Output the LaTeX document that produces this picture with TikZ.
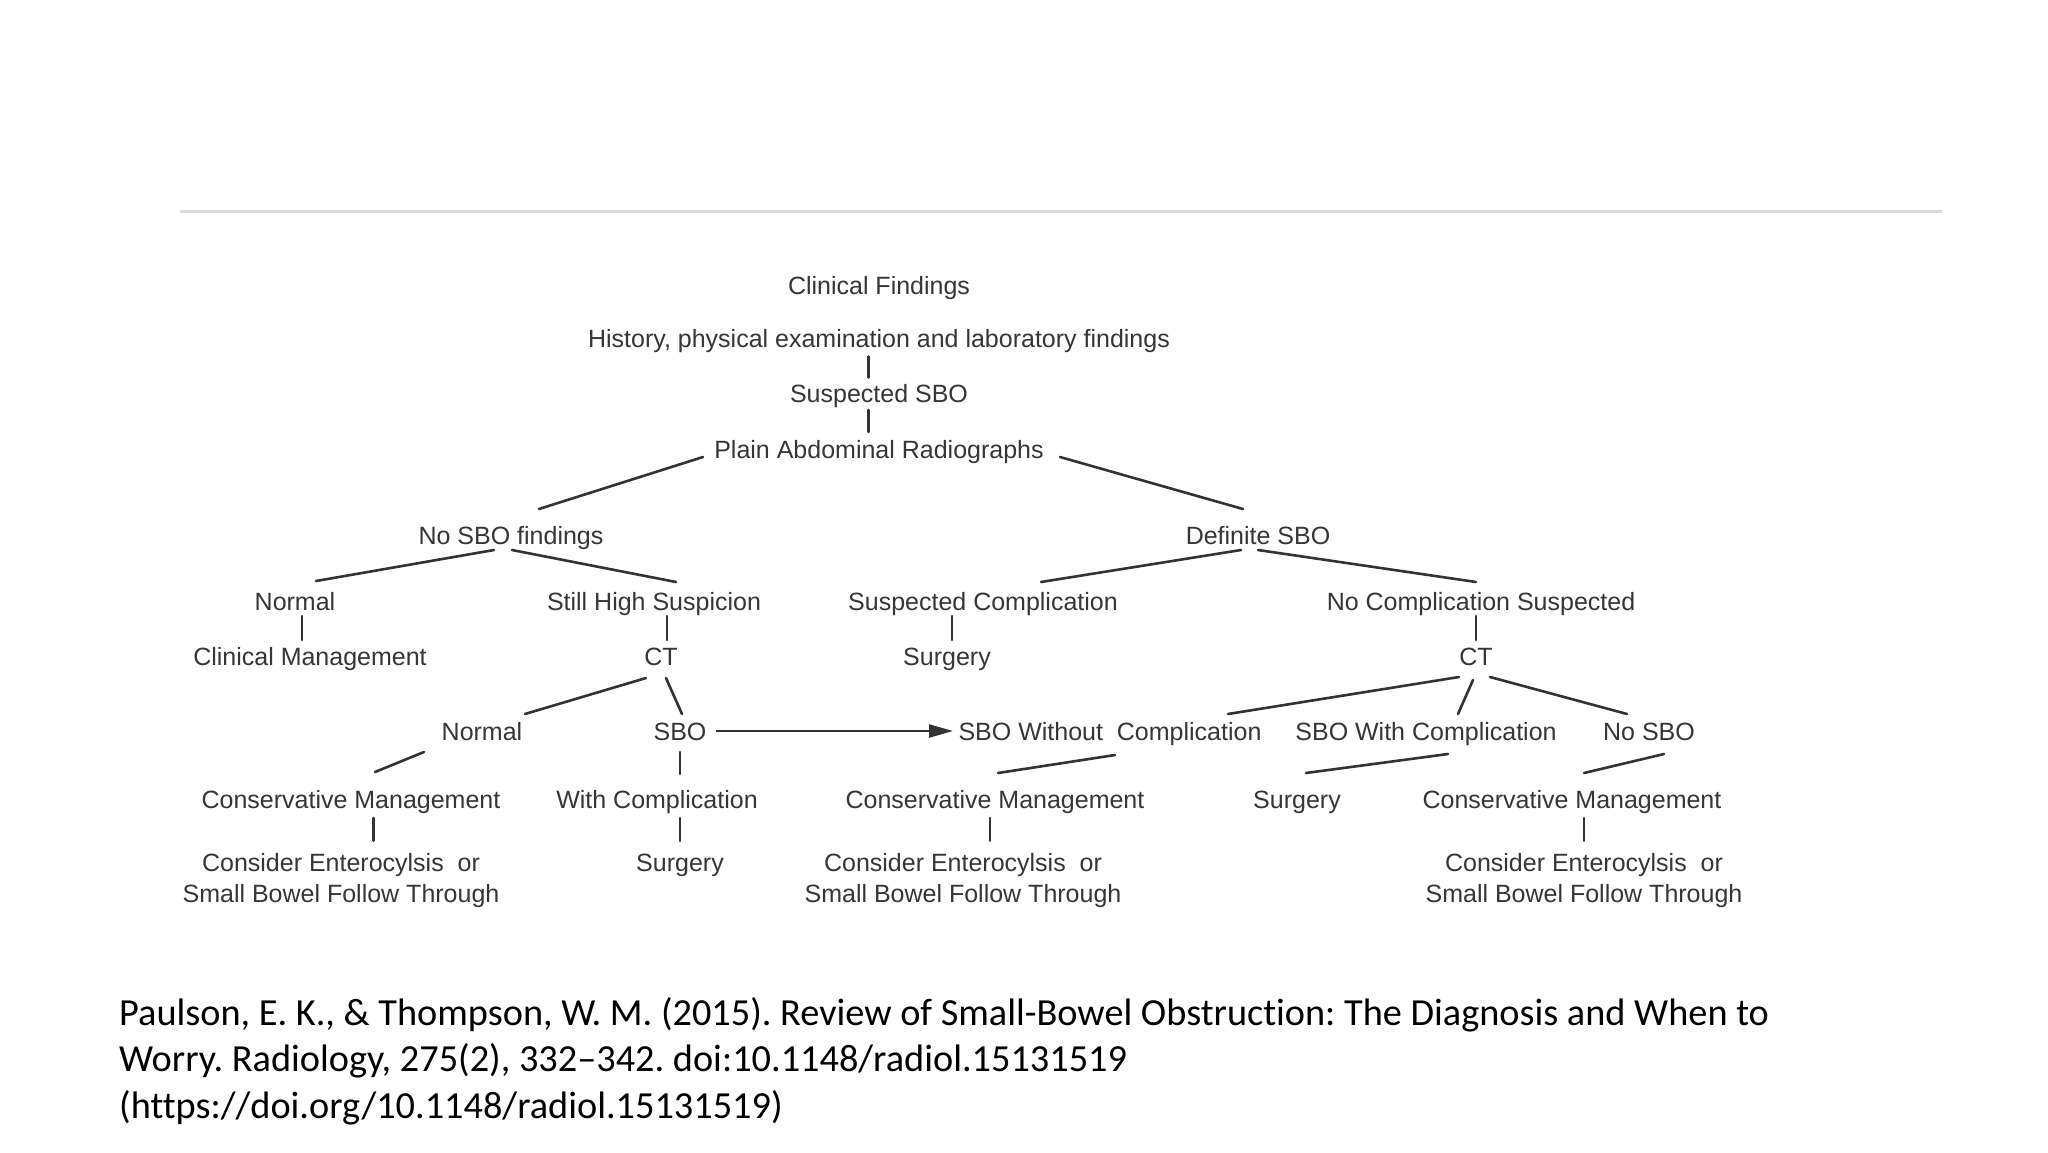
\documentclass[tikz,border=0pt]{standalone}
\usepackage{fontspec}
\setmainfont{Liberation Sans}
\newfontfamily\citefont[Ligatures=NoCommon]{Carlito}
\usetikzlibrary{calc,arrows.meta}
\definecolor{txt}{HTML}{363636}
\definecolor{ln}{HTML}{333333}
\definecolor{rulegray}{HTML}{DADADA}
\frenchspacing
\tikzset{
  lbl/.style={inner sep=0pt, text height=18pt, text depth=0pt, text=txt,
    font=\fontsize{25}{31}\selectfont, align=center},
  lbltwo/.style={inner sep=0pt, text=txt, font=\fontsize{25}{31}\selectfont, align=center},
  conn/.style={draw=ln, line width=2.6pt, line cap=round},
  cite/.style={inner sep=0pt, anchor=base west, align=left, text=black,
    font=\citefont\fontsize{38.3}{46.4}\selectfont}
}
\begin{document}
\begin{tikzpicture}[x=1pt,y=-1pt]
\useasboundingbox (0,0) rectangle (2048,1152);
\fill[white] (0,0) rectangle (2048,1152);
\draw[rulegray, line width=3pt] (180,211) -- (1942,211);

% nodes
\node[lbl] (cf) at (879,285) {Clinical Findings};
\node[lbl] (hist) at (879,338) {History, physical examination and laboratory findings};
\node[lbl] (ssbo) at (879,393) {Suspected SBO};
\node[lbl] (plain) at (879,449) {Plain Abdominal Radiographs};
\node[lbl] (nosbo) at (511,535) {No SBO findings};
\node[lbl] (defsbo) at (1258,535) {Definite SBO};
\node[lbl] (norm1) at (295,601) {Normal};
\node[lbl] (still) at (654,601) {Still High Suspicion};
\node[lbl] (scomp) at (983,601) {Suspected Complication};
\node[lbl] (nocomp) at (1481,601) {No Complication Suspected};
\node[lbl] (clin) at (310,656) {Clinical Management};
\node[lbl] (ct1) at (661,656) {CT};
\node[lbl] (surg1) at (947,656) {Surgery};
\node[lbl] (ct2) at (1476,656) {CT};
\node[lbl] (norm2) at (482,731) {Normal};
\node[lbl] (sbo) at (680,731) {SBO};
\node[lbl] (sbowo) at (1110,731) {SBO Without\ \ Complication};
\node[lbl] (sbow) at (1426,731) {SBO With Complication};
\node[lbl] (nosbo2) at (1649,731) {No SBO};
\node[lbl] (cons1) at (351,799) {Conservative Management};
\node[lbl] (withc) at (657,799) {With Complication};
\node[lbl] (cons2) at (995,799) {Conservative Management};
\node[lbl] (surg3) at (1297,799) {Surgery};
\node[lbl] (cons3) at (1572,799) {Conservative Management};
\node[lbl] (surg2) at (680,862) {Surgery};
\node[lbltwo, anchor=base] (cons1b) at (341,902) {Consider Enterocylsis\ \ or\\Small Bowel Follow Through};
\node[lbltwo, anchor=base] (cons2b) at (963,902) {Consider Enterocylsis\ \ or\\Small Bowel Follow Through};
\node[lbltwo, anchor=base] (cons3b) at (1584,902) {Consider Enterocylsis\ \ or\\Small Bowel Follow Through};

% connectors
\draw[conn] ($(hist.center)+(-10.5,18.5)$) -- ($(ssbo.center)+(-10.5,-15.5)$);
\draw[conn] ($(ssbo.center)+(-10.5,17)$) -- ($(plain.center)+(-10.5,-17)$);
\draw[conn] ($(plain.center)+(-176,8)$) -- ($(nosbo.center)+(28,-26)$);
\draw[conn] ($(plain.center)+(181,8)$) -- ($(defsbo.center)+(-15,-26)$);
\draw[conn] ($(nosbo.center)+(-17,15)$) -- ($(norm1.center)+(21,-20)$);
\draw[conn] ($(nosbo.center)+(1,15)$) -- ($(still.center)+(22,-19)$);
\draw[conn] ($(defsbo.center)+(-17,15)$) -- ($(scomp.center)+(58,-19)$);
\draw[conn] ($(defsbo.center)+(0,15)$) -- ($(nocomp.center)+(-5,-19)$);
\draw[conn] ($(norm1.center)+(7,15)$) -- ($(clin.center)+(-8,-16)$);
\draw[conn] ($(still.center)+(13,15)$) -- ($(ct1.center)+(6,-16)$);
\draw[conn] ($(scomp.center)+(-31,15)$) -- ($(surg1.center)+(5,-16)$);
\draw[conn] ($(nocomp.center)+(-5,15)$) -- ($(ct2.center)+(0,-16)$);
\draw[conn] ($(ct1.center)+(-15,22)$) -- ($(norm2.center)+(43,-17)$);
\draw[conn] ($(ct1.center)+(5,22)$) -- ($(sbo.center)+(2,-17)$);
\draw[draw=ln, line width=2.4pt, -{Triangle[length=24pt,width=13pt]}] ($(sbo.center)+(36,0)$) -- ($(sbowo.center)+(-157,0)$);
\draw[conn] ($(ct2.center)+(-17,21)$) -- ($(sbowo.center)+(118,-17)$);
\draw[conn] ($(ct2.center)+(-3,24)$) -- ($(sbow.center)+(32,-17)$);
\draw[conn] ($(ct2.center)+(14,21)$) -- ($(nosbo2.center)+(-22,-17)$);
\draw[conn] ($(norm2.center)+(-58,21)$) -- ($(cons1.center)+(24,-27)$);
\draw[conn] ($(sbo.center)+(0,21)$) -- ($(withc.center)+(23,-25)$);
\draw[conn] ($(cons1.center)+(22.5,19)$) -- ($(cons1b.north)+(32.5,-12)$);
\draw[conn] ($(withc.center)+(23,19)$) -- ($(surg2.center)+(0,-21)$);
\draw[conn] ($(sbowo.center)+(5,24)$) -- ($(cons2.center)+(3,-26)$);
\draw[conn] ($(cons2.center)+(-5,19)$) -- ($(cons2b.north)+(27,-12)$);
\draw[conn] ($(sbow.center)+(22,23)$) -- ($(surg3.center)+(9,-26)$);
\draw[conn] ($(nosbo2.center)+(15,23)$) -- ($(cons3.center)+(12,-26)$);
\draw[conn] ($(cons3.center)+(12,19)$) -- ($(cons3b.north)+(0,-12)$);

% citation
\node[cite] (cite) at (119,1118) {Paulson, E. K., \& Thompson, W. M. (2015). Review of Small-Bowel Obstruction: The Diagnosis and When to\\Worry. Radiology, 275(2), 332–342. doi:10.1148/radiol.15131519\\(https://doi.org/10.1148/radiol.15131519)};
\end{tikzpicture}
\end{document}
